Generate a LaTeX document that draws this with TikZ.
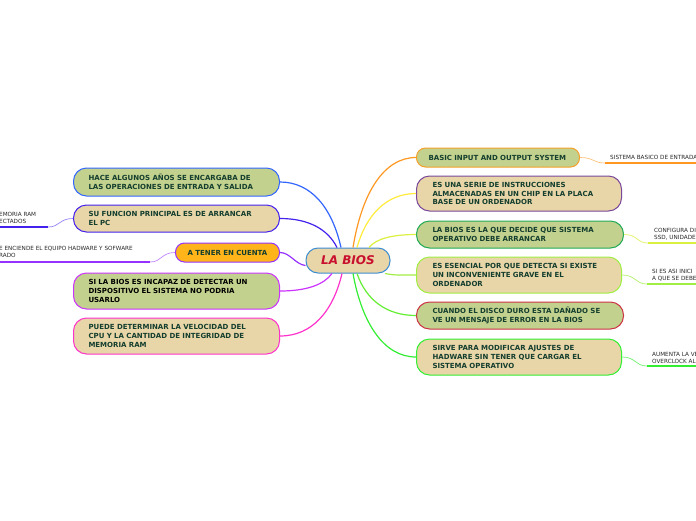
\documentclass[tikz,border=0pt]{standalone}
\usepackage{fontspec}
\setmainfont{DejaVu Sans}
\definecolor{tanc}{RGB}{232,213,168}
\definecolor{grnc}{RGB}{194,209,142}
\definecolor{orgc}{RGB}{255,180,26}
\definecolor{txt}{RGB}{20,62,46}
\definecolor{biosred}{RGB}{200,16,46}
\definecolor{biosb}{RGB}{60,140,210}
\definecolor{cl1}{RGB}{51,102,255}
\definecolor{cl2}{RGB}{68,34,238}
\definecolor{cl3}{RGB}{150,50,255}
\definecolor{cl4}{RGB}{204,51,255}
\definecolor{cl5}{RGB}{255,51,204}
\definecolor{cr1}{RGB}{245,160,40}
\definecolor{cr1b}{RGB}{255,152,34}
\definecolor{cr2}{RGB}{255,236,60}
\definecolor{cr2b}{RGB}{122,72,154}
\definecolor{cr3}{RGB}{220,240,64}
\definecolor{cr3b}{RGB}{34,170,85}
\definecolor{cr4}{RGB}{160,238,68}
\definecolor{cr5}{RGB}{100,238,51}
\definecolor{cr5b}{RGB}{204,51,68}
\definecolor{cr6}{RGB}{51,238,51}
\definecolor{subtxt}{RGB}{40,40,40}
\begin{document}
\begin{tikzpicture}[x=1pt,y=-1pt,
  box/.style={rounded corners=13pt, line width=1pt, anchor=west, align=left,
    inner ysep=0pt, font=\fontsize{7}{8.6}\selectfont\bfseries, text=txt},
  link/.style={line width=1.2pt},
  sublink/.style={line width=0.7pt},
  underline/.style={line width=2pt},
  subtext/.style={anchor=west, align=left, inner sep=0pt, text=subtxt,
    font=\fontsize{5.7}{7}\selectfont}]
\useasboundingbox (0,0) rectangle (696,520);
\clip (0,0) rectangle (696,520);
\fill[white] (0,0) rectangle (696,520);

% center
\node[draw=biosb, fill=tanc, rounded corners=12pt, line width=1pt,
  minimum width=84pt, minimum height=25pt, inner sep=0pt,
  font=\fontsize{12}{14}\selectfont\bfseries\itshape, text=biosred] (bios) at (348,260.5) {LA BIOS};

% left nodes
\node[box, fill=grnc, draw=cl1, minimum height=28pt, text width=176pt, inner xsep=15pt] (l1) at (73,182)
  {HACE ALGUNOS AÑOS SE ENCARGABA DE\\LAS OPERACIONES DE ENTRADA Y SALIDA};
\node[box, fill=tanc, draw=cl2, minimum height=27pt, text width=176pt, inner xsep=15pt] (l2) at (73,218.5)
  {SU FUNCION PRINCIPAL ES DE ARRANCAR\\EL PC};
\node[box, fill=orgc, draw=cl3, rounded corners=9pt, minimum height=19pt, text width=80pt, inner xsep=12pt, align=center] (l3) at (175,252.5)
  {A TENER EN CUENTA};
\node[box, fill=grnc, draw=cl4, minimum height=36pt, text width=176pt, inner xsep=15pt, text=black] (l4) at (73,291)
  {SI LA BIOS ES INCAPAZ DE DETECTAR UN\\DISPOSITIVO EL SISTEMA NO PODRIA\\USARLO};
\node[box, fill=tanc, draw=cl5, minimum height=36pt, text width=176pt, inner xsep=15pt] (l5) at (73,336)
  {PUEDE DETERMINAR LA VELOCIDAD DEL\\CPU Y LA CANTIDAD DE INTEGRIDAD DE\\MEMORIA RAM};

% right nodes
\node[box, fill=grnc, draw=cr1, rounded corners=9pt, minimum height=19pt, text width=139pt, inner xsep=12pt] (r1) at (416,157.5)
  {BASIC INPUT AND OUTPUT SYSTEM};
\node[box, fill=tanc, draw=cr2b, minimum height=35pt, text width=173pt, inner xsep=16pt] (r2) at (416,193.5)
  {ES UNA SERIE DE INSTRUCCIONES\\ALMACENADAS EN UN CHIP EN LA PLACA\\BASE DE UN ORDENADOR};
\node[box, fill=grnc, draw=cr3b, minimum height=27pt, text width=175pt, inner xsep=16pt] (r3) at (416,234.5)
  {LA BIOS ES LA QUE DECIDE QUE SISTEMA\\OPERATIVO DEBE ARRANCAR};
\node[box, fill=tanc, draw=cr4, minimum height=36pt, text width=173pt, inner xsep=16pt] (r4) at (416,275)
  {ES ESENCIAL POR QUE DETECTA SI EXISTE\\UN INCONVENIENTE GRAVE EN EL\\ORDENADOR};
\node[box, fill=grnc, draw=cr5b, minimum height=27pt, text width=175pt, inner xsep=16pt] (r5) at (416,315.5)
  {CUANDO EL DISCO DURO ESTA DAÑADO SE\\VE UN MENSAJE DE ERROR EN LA BIOS};
\node[box, fill=tanc, draw=cr6, minimum height=36pt, text width=173pt, inner xsep=16pt] (r6) at (416,357)
  {SIRVE PARA MODIFICAR AJUSTES DE\\HADWARE SIN TENER QUE CARGAR EL\\SISTEMA OPERATIVO};

% main connectors
\draw[link, cl1] ([xshift=-7pt]bios.north) .. controls +(-9,-40) and +(31,0) .. (l1.east);
\draw[link, cl2] ([xshift=-11pt]bios.north) .. controls +(-9,-18) and +(29,0) .. (l2.east);
\draw[link, cl3] ([yshift=-5pt]bios.west) .. controls +(-10,-1) and +(10,0) .. (l3.east);
\draw[link, cl4] ([xshift=-16pt]bios.south) .. controls +(-8,11) and +(27,0) .. (l4.east);
\draw[link, cl5] ([xshift=-6pt]bios.south) .. controls +(-9,38) and +(32,0) .. (l5.east);

\draw[link, cr1b] ([xshift=5pt]bios.north) .. controls +(9,-55) and +(-32,0) .. (r1.west);
\draw[link, cr2] ([xshift=9pt]bios.north) .. controls +(9,-32) and +(-30,0) .. (r2.west);
\draw[link, cr3] ([xshift=21pt]bios.north) .. controls +(7,-9) and +(-23,0) .. (r3.west);
\draw[link, cr4] ([xshift=37pt]bios.south) .. controls +(10,2) and +(-15,0) .. (r4.west);
\draw[link, cr5] ([xshift=9pt]bios.south) .. controls +(9,26) and +(-30,0) .. (r5.west);
\draw[link, cr6] ([xshift=5pt]bios.south) .. controls +(9,50) and +(-32,0) .. (r6.west);

% sub-branches
\coordinate (u1a) at (605,163); \coordinate (u1b) at (700,163);
\draw[sublink, cr1b!60] (r1.east) .. controls +(14,0) and +(-12,0) .. (u1a);
\draw[underline, cr1b] (u1a) -- (u1b);
\node[subtext] (t1) at (610,157) {SISTEMA BASICO DE ENTRADA};

\coordinate (u3a) at (648,243); \coordinate (u3b) at (700,243);
\draw[sublink, cr3!80] (r3.east) .. controls +(14,0) and +(-12,0) .. (u3a);
\draw[underline, cr3] (u3a) -- (u3b);
\node[subtext] (t3) at (654,234.5) {CONFIGURA DI\\SSD, UNIDADE};

\coordinate (u4a) at (647,284); \coordinate (u4b) at (700,284);
\draw[sublink, cr4!80] (r4.east) .. controls +(14,0) and +(-12,0) .. (u4a);
\draw[underline, cr4] (u4a) -- (u4b);
\node[subtext] (t4) at (652,275.5) {SI ES ASI INICI\\A QUE SE DEBE};

\coordinate (u6a) at (647,366); \coordinate (u6b) at (700,366);
\draw[sublink, cr6!70] (r6.east) .. controls +(14,0) and +(-12,0) .. (u6a);
\draw[underline, cr6] (u6a) -- (u6b);
\node[subtext] (t6) at (652,357.5) {AUMENTA LA VE\\OVERCLOCK AL};

\coordinate (u2a) at (48,227); \coordinate (u2b) at (-5,227);
\draw[sublink, cl2!55] (l2.west) .. controls +(-14,0) and +(12,0) .. (u2a);
\draw[underline, cl2] (u2a) -- (u2b);
\node[subtext] (t2) at (-1,218) {EMORIA RAM\\ECTADOS};

\coordinate (u3la) at (150,262); \coordinate (u3lb) at (-5,262);
\draw[sublink, cl3!60] (l3.west) .. controls +(-14,0) and +(12,0) .. (u3la);
\draw[underline, cl3] (u3la) -- (u3lb);
\node[subtext] (t3l) at (-1,252) {E ENCIENDE EL EQUIPO HADWARE Y SOFWARE\\RADO};
\end{tikzpicture}
\end{document}
